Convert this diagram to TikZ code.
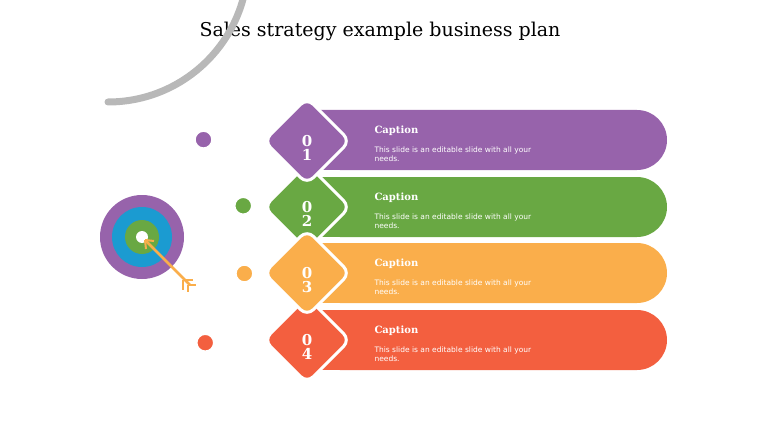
\documentclass[tikz,border=0pt]{standalone}
\usepackage{fontspec}
\setmainfont{DejaVu Serif}
\newfontfamily\bodyfont{DejaVu Sans}
\begin{document}
\begin{tikzpicture}[x=1pt,y=-1pt,
  dia/.style={fill=#1,draw=white,line width=3pt,rounded corners=9pt},
  dot/.style={circle,fill=#1,draw=white,line width=1.5pt,minimum size=17pt,inner sep=0pt},
  num/.style={text=white,font=\bfseries\fontsize{15}{14}\selectfont,align=center},
  captxt/.style={text=white,font=\bfseries\fontsize{10}{12}\selectfont,anchor=west},
  bodytxt/.style={text=white,font=\bodyfont\fontsize{7.5}{9}\selectfont,anchor=north west,align=left}]
\definecolor{cpur}{HTML}{9763AB}
\definecolor{cgrn}{HTML}{69A843}
\definecolor{corg}{HTML}{FAAE4B}
\definecolor{cred}{HTML}{F35F3F}
\definecolor{cblu}{HTML}{1B9BD1}
\useasboundingbox (0,0) rectangle (768,433);
\node[font=\fontsize{19}{22}\selectfont] (title) at (380,31) {Sales strategy example business plan};
% arc
\draw[line width=7pt,color=black!28,line cap=round] (108,102) arc[start angle=90,end angle=-90,radius=140];
\node[dot=cpur] (d1) at ({108+140*cos(47)},{242-140*sin(47)}) {};
\node[dot=cgrn] (d2) at ({108+140*cos(15)},{242-140*sin(15)}) {};
\node[dot=corg] (d3) at ({108+140*cos(-13)},{242-140*sin(-13)}) {};
\node[dot=cred] (d4) at ({108+140*cos(-46)},{242-140*sin(-46)}) {};
% target
\node[circle,fill=cpur,minimum size=84pt,inner sep=0pt] (t1) at (142,237) {};
\node[circle,fill=cblu,minimum size=60pt,inner sep=0pt] at (t1) {};
\node[circle,fill=cgrn,minimum size=34pt,inner sep=0pt] at (t1) {};
\node[circle,fill=white,minimum size=12pt,inner sep=0pt] (t0) at (t1) {};
\coordinate (tail) at (190,285);
\draw[corg,line width=2.5pt] (145,240) -- (tail);
\draw[corg,line width=2pt] (145,240) -- (154,241) (145,240) -- (146,249);
\draw[corg,line width=2pt] (183,280)--(193,280) (183,280)--(183,290) (188,285)--(196,285) (188,285)--(188,292);
% bars
\foreach \y/\c in {110/cpur,177/cgrn,243/corg,310/cred}{
  \fill[\c,rounded corners=30pt] (310,\y) -- (667,\y) -- (667,\y+60) -- (310,\y+60) [sharp corners] -- cycle;
  \fill[\c] (310,\y) rectangle (340,\y+60);
}
\foreach \y in {110,177,243,310}{
  \node[captxt] at (371,\y+21) {Caption};
  \node[bodytxt] at (371,\y+33) {This slide is an editable slide with all your\\needs.};
}
% diamonds
\foreach \cy/\c/\n in {207/cgrn/2,340/cred/4,141/cpur/1,273/corg/3}{
  \draw[dia=\c] (307,\cy-43) -- (350,\cy) -- (307,\cy+43) -- (264,\cy) -- cycle;
  \node[num,anchor=north] (n\n) at (307,\cy-9) {0\\\n};
}
\end{tikzpicture}
\end{document}
